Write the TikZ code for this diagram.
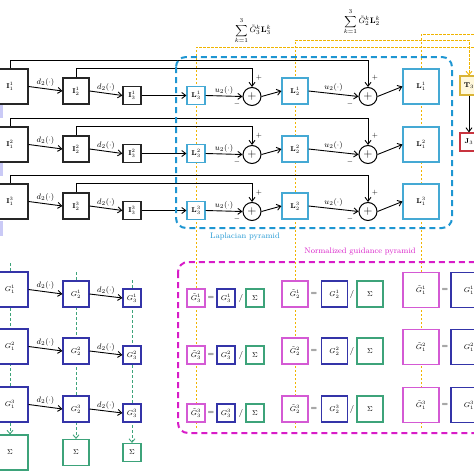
\documentclass[tikz,border=0pt]{standalone}
\usepackage{amsmath,amssymb}
\usetikzlibrary{arrows.meta,positioning,calc,backgrounds}
\definecolor{lapblue}{HTML}{1E96D2}
\definecolor{lapcyan}{HTML}{45A9D4}
\definecolor{normmag}{HTML}{D81CC8}
\definecolor{tildemag}{HTML}{D45AD4}
\definecolor{guideblue}{HTML}{3434A8}
\definecolor{sumgreen}{HTML}{3DA37A}
\definecolor{pathyellow}{HTML}{F0B400}
\definecolor{tgold}{HTML}{D9B437}
\definecolor{tfill}{HTML}{FFF8DC}
\definecolor{jred}{HTML}{C8343F}
\definecolor{cutlav}{HTML}{CACAF6}

\begin{document}
\begin{tikzpicture}[x=1pt, y=-1pt,
  box/.style={draw=black!85, fill=white, line width=1.1pt, inner sep=0pt, font=\scriptsize},
  big/.style={minimum width=36pt, minimum height=35pt},
  mid/.style={minimum size=26pt},
  sml/.style={minimum size=18pt},
  lap/.style={box, draw=lapcyan},
  gde/.style={box, draw=guideblue},
  ngd/.style={box, draw=tildemag, line width=1.3pt},
  sig/.style={box, draw=sumgreen},
  add/.style={circle, draw=black, fill=white, line width=1pt, minimum size=18pt, inner sep=0pt},
  arr/.style={-{Straight Barb[length=4pt,width=6pt]}, line width=0.9pt},
  lab/.style={font=\footnotesize, inner sep=1.5pt},
  sgn/.style={font=\scriptsize, inner sep=0pt},
  gpath/.style={draw=sumgreen, dash pattern=on 3pt off 2pt, line width=0.9pt, -{Straight Barb[length=3.5pt,width=6pt]}},
  ypath/.style={draw=pathyellow, dash pattern=on 2.5pt off 1.5pt, line width=0.9pt},
  group/.style={dash pattern=on 6pt off 4pt, line width=2pt, rounded corners=10pt}
]
\useasboundingbox (0,0) rectangle (474,474);

% cut-off strips on the left edge
\fill[cutlav] (-2,104) rectangle (3,118);
\fill[cutlav] (-2,162) rectangle (3,176);
\fill[cutlav] (-2,221) rectangle (3,236);

% image rows and Laplacian pyramid
\foreach \r/\dy in {1/0, 2/58, 3/115} {
  \node[box, big] (I1-\r) at (10,{86.5+\dy}) {$\mathbf{I}_1^{\r}$};
  \node[box, mid] (I2-\r) at (76,{91+\dy}) {$\mathbf{I}_2^{\r}$};
  \node[box, sml] (I3-\r) at (132,{95.5+\dy}) {$\mathbf{I}_3^{\r}$};
  \node[lap, sml] (L3-\r) at (196,{95.5+\dy}) {$\mathbf{L}_3^{\r}$};
  \node[add] (P1-\r) at (252,{96.5+\dy}) {\large$+$};
  \node[lap, mid] (L2-\r) at (295,{91+\dy}) {$\mathbf{L}_2^{\r}$};
  \node[add] (P2-\r) at (368,{96.5+\dy}) {\large$+$};
  \node[lap, big] (L1-\r) at (421,{86.5+\dy}) {$\mathbf{L}_1^{\r}$};
  \draw[arr] (I1-\r.east) -- node[above, lab] {$d_2(\cdot)$} (I2-\r.west);
  \draw[arr] (I2-\r.east) -- node[above, lab] {$d_2(\cdot)$} (I3-\r.west);
  \draw[arr] (I3-\r.east) -- (L3-\r.west);
  \draw[arr] (L3-\r.east) -- node[above, lab] {$u_2(\cdot)$} (P1-\r.west);
  \draw[arr] (P1-\r.east) -- (L2-\r.west);
  \draw[arr] (L2-\r.east) -- node[above, lab] {$u_2(\cdot)$} (P2-\r.west);
  \draw[arr] (P2-\r.east) -- (L1-\r.west);
  \draw[arr] (I1-\r.north) -- ++(0,-8) -| (P2-\r.north);
  \draw[arr] (I2-\r.north) -- ++(0,-9) -| (P1-\r.north);
  \node[sgn] at ($(P1-\r)+(7,-19)$) {$+$};
  \node[sgn] at ($(P1-\r)+(-15,7)$) {$-$};
  \node[sgn] at ($(P2-\r)+(7,-19)$) {$+$};
  \node[sgn] at ($(P2-\r)+(-18,7)$) {$-$};
}

% guidance pyramid and normalized guidance pyramid
\foreach \r/\dy in {1/0, 2/57, 3/115} {
  \node[gde, big] (G1-\r) at (10,{289.5+\dy}) {$G_1^{\r}$};
  \node[gde, mid] (G2-\r) at (76,{294+\dy}) {$G_2^{\r}$};
  \node[gde, sml] (G3-\r) at (132,{298+\dy}) {$G_3^{\r}$};
  \draw[arr] (G1-\r.east) -- node[above, lab] {$d_2(\cdot)$} (G2-\r.west);
  \draw[arr] (G2-\r.east) -- node[above, lab] {$d_2(\cdot)$} (G3-\r.west);
  \node[ngd, sml] (N3-\r) at (196,{298+\dy}) {$\tilde{G}_3^{\r}$};
  \node[lab] (eq3-\r) at (211,{298+\dy}) {$=$};
  \node[gde, sml] (H3-\r) at (226,{298+\dy}) {$G_3^{\r}$};
  \node[lab] (dv3-\r) at (241,{298+\dy}) {$/$};
  \node[sig, sml] (Q3-\r) at (255,{298+\dy}) {$\Sigma$};
  \node[ngd, mid] (N2-\r) at (295,{294+\dy}) {$\tilde{G}_2^{\r}$};
  \node[lab] (eq2-\r) at (314,{294+\dy}) {$=$};
  \node[gde, mid] (H2-\r) at (334.5,{294+\dy}) {$G_2^{\r}$};
  \node[lab] (dv2-\r) at (352,{294+\dy}) {$/$};
  \node[sig, mid] (Q2-\r) at (370,{294+\dy}) {$\Sigma$};
  \node[ngd, big] (N1-\r) at (421,{290+\dy}) {$\tilde{G}_1^{\r}$};
  \node[lab] (eq1-\r) at (445,{290+\dy}) {$=$};
  \node[gde, big] (H1-\r) at (469,{290+\dy}) {$G_1^{\r}$};
}
\node[sig, big] (S1) at (10,452.5) {$\Sigma$};
\node[sig, mid] (S2) at (76,452.5) {$\Sigma$};
\node[sig, sml] (S3) at (132,452.5) {$\Sigma$};

% fusion output
\node[box, sml, minimum height=19pt, draw=tgold, fill=tfill] (T3) at (469,85.5) {$\mathbf{T}_3$};
\node[box, sml, draw=jred] (J3) at (469,142) {$\mathbf{J}_3$};
\draw[arr] (T3.south) -- (J3.north);

\node[font=\footnotesize] (sum3) at (253,31) {$\displaystyle\sum_{k=1}^{3}\tilde{G}_3^k\mathbf{L}_3^k$};
\node[font=\footnotesize] (sum2) at (362,22) {$\displaystyle\sum_{k=1}^{3}\tilde{G}_2^k\mathbf{L}_2^k$};

\begin{pgfonlayer}{background}
  \coordinate (gs1) at (10,263);
  \coordinate (gs2) at (76,272);
  \coordinate (gs3) at (132,280);
  \draw[gpath] (gs1) -- (S1.north);
  \draw[gpath] (gs2) -- (S2.north);
  \draw[gpath] (gs3) -- (S3.north);
  \coordinate (y3top) at (196,47);
  \coordinate (y2top) at (295,40);
  \coordinate (y1top) at (421,34);
  \coordinate (y3bot) at (196,428);
  \coordinate (y2bot) at (295,428);
  \coordinate (y1bot) at (421,428);
  \coordinate (y3out) at (480,47);
  \coordinate (y1out) at (480,34);
  \draw[ypath] (y3bot) -- (y3top) -- (y3out);
  \draw[ypath, -{Straight Barb[length=3.5pt,width=6pt]}] (y2bot) -- (y2top) -| (T3.north);
  \draw[ypath] (y1bot) -- (y1top) -- (y1out);
\end{pgfonlayer}

% pyramid frames
\draw[group, draw=lapblue] (176,57) rectangle (452,228);
\node[font=\footnotesize, text=lapblue] (laplab) at (245,237) {Laplacian pyramid};
\draw[group, draw=normmag] (178,262) rectangle (492,433);
\node[font=\footnotesize, text=normmag] (normlab) at (360,252) {Normalized guidance pyramid};
\end{tikzpicture}
\end{document}
